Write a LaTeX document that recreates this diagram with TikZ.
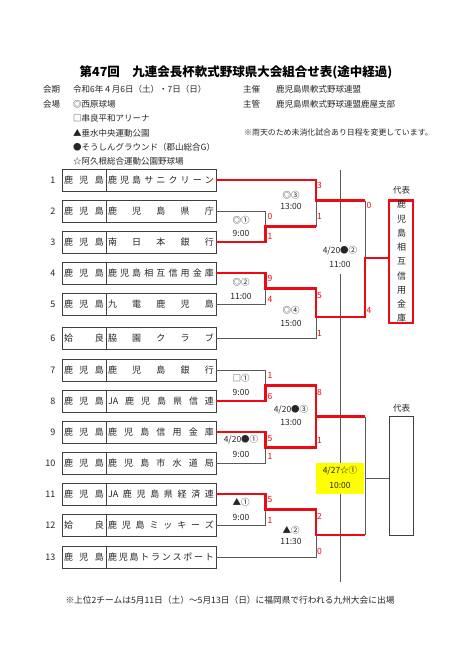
\documentclass[tikz,border=0pt]{standalone}
\usepackage{fontspec}
\setmainfont{Noto Sans CJK JP}
\definecolor{lg}{HTML}{5A5A5A}
\definecolor{bx}{HTML}{404040}
\definecolor{rd}{HTML}{EE0A14}
\definecolor{tx}{HTML}{262626}
\definecolor{yl}{HTML}{FFFF00}
\newcommand\spreadbox[2]{\hbox to #1{\spreadfirst#2\relax}}
\def\spreadfirst#1{\ifx\relax#1\else#1\expandafter\spreadnext\fi}
\def\spreadnext#1{\ifx\relax#1\else\hfill#1\expandafter\spreadnext\fi}
\newcommand\fs[1]{\fontsize{#1}{#1}\selectfont}
\tikzset{
  city/.style={draw=bx, line width=0.9pt, minimum width=44pt, minimum height=22pt, inner sep=0pt, font=\fs{9}, text=tx},
  tname/.style={draw=bx, line width=0.9pt, minimum width=110pt, minimum height=22pt, inner sep=0pt, font=\fs{9}, text=tx},
  num/.style={anchor=east, font=\fs{9}, text=tx, inner sep=0pt},
  gl/.style={draw=lg, line width=0.9pt},
  cl/.style={draw=lg, line width=1pt},
  rl/.style={draw=rd, line width=2.2pt},
  sc/.style={text=rd, font=\fs{8.5}, inner sep=0pt},
  ml/.style={text=tx, font=\fs{8.5}, inner sep=0pt},
  hd/.style={anchor=west, font=\fs{8.5}, text=tx, inner sep=0pt},
}
\newcommand\team[4]{%
  \node[num] (n#1) at (55.5,#2) {#1};
  \node[city] (c#1) at (84,#2) {\spreadbox{40pt}{#3}};
  \node[tname] (t#1) at (161,#2) {\spreadbox{106pt}{#4}};}
\begin{document}
\begin{tikzpicture}[x=1pt,y=-1pt]
\useasboundingbox (0,0) rectangle (474,670);
\fill[white] (0,0) rectangle (474,670);

% title and header
\node[font=\fs{12.5}\bfseries, text=black, inner sep=0pt] (title) at (236,72) {第47回　九連会長杯軟式野球県大会組合せ表(途中経過)};
\node[hd] (h1) at (43,89) {会期};
\node[hd] (h1v) at (73,89) {令和6年４月6日（土）・7日（日）};
\node[hd] (h2) at (43,104) {会場};
\node[hd] (h2v) at (73,104) {◎西原球場};
\node[hd] (h3v) at (73,118.5) {□串良平和アリーナ};
\node[hd] (h4v) at (73,133) {▲垂水中央運動公園};
\node[hd] (h5v) at (73,147) {●そうしんグラウンド（郡山総合G）};
\node[hd] (h6v) at (73,161) {☆阿久根総合運動公園野球場};
\node[hd] (r1) at (243,89) {主催};
\node[hd] (r1v) at (276,89) {鹿児島県軟式野球連盟};
\node[hd] (r2) at (243,104) {主管};
\node[hd] (r2v) at (276,104) {鹿児島県軟式野球連盟鹿屋支部};
\node[hd, font=\fs{7.9}] (r3) at (244,133) {※雨天のため未消化試合あり日程を変更しています。};

% central line
\coordinate (ctop) at (340,170);
\coordinate (cbot) at (340,582);
\draw[cl] (ctop) -- (cbot);

% teams
\team{1}{180}{鹿児島}{鹿児島サニクリーン}
\team{2}{211}{鹿児島}{鹿児島県庁}
\team{3}{242}{鹿児島}{南日本銀行}
\team{4}{273}{鹿児島}{鹿児島相互信用金庫}
\team{5}{304.5}{鹿児島}{九電鹿児島}
\team{6}{338}{姶良}{脇園クラブ}
\team{7}{370}{鹿児島}{鹿児島銀行}
\team{8}{401}{鹿児島}{{JA}鹿児島県信連}
\team{9}{432}{鹿児島}{鹿児島信用金庫}
\team{10}{463}{鹿児島}{鹿児島市水道局}
\team{11}{494}{鹿児島}{{JA}鹿児島県経済連}
\team{12}{525}{姶良}{鹿児島ミッキーズ}
\team{13}{557.5}{鹿児島}{鹿児島トランスポート}

% match points
\coordinate (M1) at (265.5,226.5);
\coordinate (M2) at (265.5,288.5);
\coordinate (M3) at (316,200.5);
\coordinate (M4) at (316,316.7);
\coordinate (M5) at (365,258.3);
\coordinate (B1) at (265.5,385.5);
\coordinate (B2) at (265.5,447.5);
\coordinate (B3) at (316,416.5);
\coordinate (B4) at (265.5,509.5);
\coordinate (B5) at (316,535);
\coordinate (F) at (365,478);

% winner boxes
\node[draw=rd, line width=2.2pt, minimum width=24pt, minimum height=122.5pt, inner sep=0pt] (W1) at (401.2,261.75) {};
\node[draw=bx, line width=0.9pt, minimum width=24pt, minimum height=118.5pt, inner sep=0pt] (W2) at (401.2,475.75) {};

% label backgrounds
\node[fill=white, minimum width=38pt, minimum height=32pt, inner sep=0pt] (m5bg) at (340,258) {};
\node[fill=yl, minimum width=48.6pt, minimum height=30.7pt, inner sep=0pt] (fbg) at (340,478.7) {};

% gray lines
\draw[gl] (t2.east) -| (M1);
\draw[gl] (M1 -| M3) -- (M3);
\draw[gl] (t5.east) -| (M2);
\draw[gl] (t6.east) -| (M4);
\draw[gl] (M3 -| M5) -- (M5);
\draw[gl] (t7.east) -| (B1);
\draw[gl] (t10.east) -| (B2);
\draw[gl] (t12.east) -| (B4);
\draw[gl] (t13.east) -| (B5);
\draw[gl] (B3 -| F) -- (B5 -| F);
\draw[gl] (F) -- (F -| W2.west);

% red lines
\draw[rl] (t1.east) -| (M3) -- (M3 -| M5);
\draw[rl] (t3.east) -| (M1) -- (M1 -| M3);
\draw[rl] (t4.east) -| (M2) -- (M2 -| M4) -- (M4) -- (M4 -| M5) -- (M5) -- (M5 -| W1.west);
\draw[rl] (t8.east) -| (B1) -- (B1 -| B3) -- (B3) -- (B3 -| F);
\draw[rl] (t9.east) -| (B2) -- (B2 -| B3) -- (B3);
\draw[rl] (t11.east) -| (B4) -- (B4 -| B5) -- (B5) -- (B5 -| F);

% scores
\node[sc] (s1a) at (270,216.7) {0};
\node[sc] (s1b) at (270,236.7) {1};
\node[sc] (s3a) at (319.5,185.7) {3};
\node[sc] (s3b) at (319.5,216.7) {1};
\node[sc] (s2a) at (270,278) {9};
\node[sc] (s2b) at (270,299) {4};
\node[sc] (s4a) at (319.5,296) {5};
\node[sc] (s4b) at (319.5,333) {1};
\node[sc] (s5a) at (369,205.7) {0};
\node[sc] (s5b) at (369,310.7) {4};
\node[sc] (b1a) at (270,375) {1};
\node[sc] (b1b) at (270,396) {6};
\node[sc] (b2a) at (270,439) {5};
\node[sc] (b2b) at (270,456) {1};
\node[sc] (b3a) at (319.5,392.7) {8};
\node[sc] (b3b) at (319.5,440) {1};
\node[sc] (b4a) at (270,500) {5};
\node[sc] (b4b) at (270,520) {1};
\node[sc] (b5a) at (319.5,516.7) {2};
\node[sc] (b5b) at (319.5,551.7) {0};

% match labels
\node[ml] (l1a) at (241,220) {◎①};
\node[ml] (l1b) at (241,233.5) {9:00};
\node[ml] (l2a) at (241,282) {◎②};
\node[ml] (l2b) at (241,296) {11:00};
\node[ml] (l3a) at (291,195) {◎③};
\node[ml] (l3b) at (291,206) {13:00};
\node[ml] (l4a) at (291,310.7) {◎④};
\node[ml] (l4b) at (291,323.3) {15:00};
\node[ml] (l5a) at (340,251) {4/20●②};
\node[ml] (l5b) at (340,264.5) {11:00};
\node[ml] (k1a) at (241,378) {□①};
\node[ml] (k1b) at (241,392) {9:00};
\node[ml] (k2a) at (241,440) {4/20●①};
\node[ml] (k2b) at (241,454.3) {9:00};
\node[ml] (k3a) at (291,409.3) {4/20●③};
\node[ml] (k3b) at (291,422.7) {13:00};
\node[ml] (k4a) at (241,502.3) {▲①};
\node[ml] (k4b) at (241,517.7) {9:00};
\node[ml] (k5a) at (291,530.7) {▲②};
\node[ml] (k5b) at (291,541) {11:30};
\node[ml] (fa) at (340,470.7) {4/27☆①};
\node[ml] (fb) at (340,485.7) {10:00};

% representatives
\node[ml] (d1) at (401.5,190) {代表};
\node[ml] (d2) at (401.5,408.3) {代表};
\node[ml, font=\fontsize{9}{14.25}\selectfont, align=center] (w1t) at (401.5,261.5) {鹿\\児\\島\\相\\互\\信\\用\\金\\庫};

% footer
\node[ml, font=\fs{8.7}] (foot) at (230,600) {※上位2チームは5月11日（土）～5月13日（日）に福岡県で行われる九州大会に出場};
\end{tikzpicture}
\end{document}
